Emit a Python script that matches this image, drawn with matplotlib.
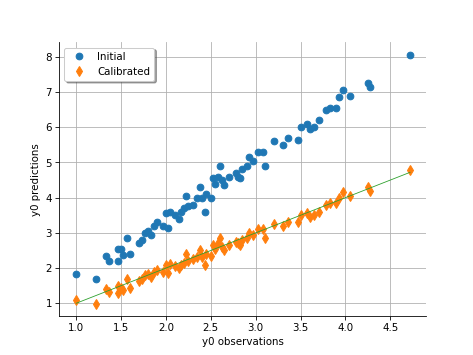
import matplotlib
matplotlib.use("Agg")
import matplotlib.pyplot as plt

obs = [1.0, 1.22, 1.33, 1.37, 1.47, 1.5, 1.47, 1.52, 1.57, 1.6, 1.7, 1.73, 1.77, 1.8, 1.83,
       1.87, 1.9, 1.97, 2.0, 2.02, 2.05, 2.1, 2.15, 2.17, 2.2, 2.22, 2.25, 2.3, 2.35, 2.38,
       2.4, 2.43, 2.45, 2.5, 2.52, 2.55, 2.58, 2.6, 2.62, 2.65, 2.7, 2.78, 2.8, 2.82, 2.85,
       2.9, 2.92, 2.97, 3.02, 3.08, 3.1, 3.2, 3.3, 3.36, 3.47, 3.5, 3.57, 3.6, 3.65, 3.7,
       3.78, 3.83, 3.9, 3.93, 3.97, 4.05, 4.25, 4.27, 4.72]
initial = [1.82, 1.68, 2.33, 2.2, 2.55, 2.55, 2.2, 2.37, 2.85, 2.4, 2.72, 2.8, 3.0, 3.05, 2.95,
           3.2, 3.3, 3.2, 3.55, 3.15, 3.6, 3.5, 3.4, 3.6, 3.7, 4.05, 3.75, 3.8, 4.0, 4.3,
           4.0, 3.6, 4.1, 4.0, 4.55, 4.4, 4.6, 4.9, 4.5, 4.35, 4.6, 4.7, 4.6, 4.55, 4.8,
           4.9, 5.15, 5.05, 5.3, 5.3, 4.9, 5.6, 5.5, 5.7, 5.65, 6.0, 6.1, 5.95, 6.0, 6.2,
           6.5, 6.55, 6.55, 6.85, 7.05, 6.9, 7.25, 7.15, 8.05]
calibrated = [1.08, 0.98, 1.4, 1.33, 1.48, 1.42, 1.3, 1.38, 1.7, 1.42, 1.62, 1.7, 1.8, 1.82, 1.75,
              1.9, 1.95, 1.9, 2.1, 1.85, 2.12, 2.05, 2.0, 2.1, 2.15, 2.4, 2.2, 2.25, 2.3, 2.5,
              2.3, 2.1, 2.4, 2.35, 2.65, 2.55, 2.7, 2.85, 2.6, 2.5, 2.65, 2.75, 2.7, 2.65, 2.8,
              2.85, 3.0, 2.95, 3.1, 3.1, 2.85, 3.25, 3.2, 3.3, 3.3, 3.5, 3.55, 3.45, 3.5, 3.6,
              3.8, 3.85, 3.85, 4.0, 4.15, 4.05, 4.3, 4.2, 4.78]
diag = [1.0, 4.72]

fig, ax = plt.subplots(figsize=(6.4, 4.8), dpi=74)
ax.plot(obs, initial, 'o', color='#1f77b4', markersize=6.5, label='Initial')
ax.plot(obs, calibrated, 'd', color='#ff7f0e', markersize=7, label='Calibrated')
ax.plot(diag, diag, '-', color='#2ca02c', linewidth=0.8)
ax.set_xlim(0.81, 4.9)
ax.set_ylim(0.64, 8.41)
ax.set_xlabel('y0 observations')
ax.set_ylabel('y0 predictions')
ax.grid(True)
ax.spines['top'].set_visible(False)
ax.spines['right'].set_visible(False)
ax.legend(loc='upper left', shadow=True)
fig.savefig('out.png', dpi=74)
